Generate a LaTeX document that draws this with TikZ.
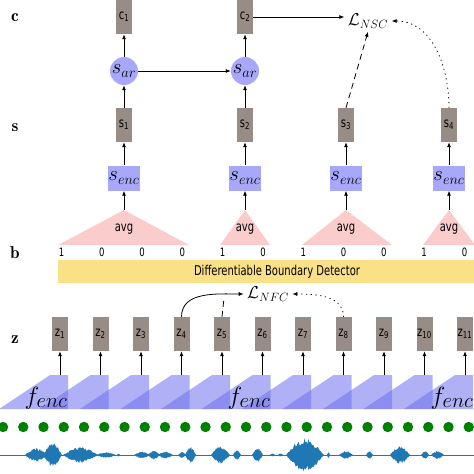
\documentclass[tikz,border=0pt]{standalone}
\usepackage{amsmath,amssymb,amsfonts}
\usepackage{fontspec}
\setsansfont{DejaVu Sans}[FakeStretch=0.74]
\usetikzlibrary{arrows.meta}

\definecolor{boxgray}{RGB}{152,140,135}
\definecolor{encblue}{RGB}{168,168,250}
\definecolor{rampblue}{RGB}{112,114,238}
\definecolor{avgpink}{RGB}{250,204,204}
\definecolor{bdyellow}{RGB}{250,224,135}
\definecolor{dotgreen}{RGB}{0,128,0}
\definecolor{wavblue}{RGB}{31,119,180}

\begin{document}
\begin{tikzpicture}[x=1pt,y=-1pt,>={Latex[length=5pt,width=4pt]},
  every node/.style={font=\sffamily},
  gbox/.style={fill=boxgray, minimum width=16pt, minimum height=34pt, inner sep=0pt,
    font=\sffamily\fontsize{13.5}{13.5}\selectfont},
  encbox/.style={fill=encblue, minimum width=29pt, minimum height=25pt, inner sep=0pt, font=\huge},
  arnode/.style={circle, fill=encblue, minimum size=28pt, inner sep=0pt, font=\huge},
  ramp/.style={fill=rampblue, fill opacity=0.56},
  loosedot/.style={dash pattern=on 0.8pt off 4pt, line cap=round},
  longdash/.style={dash pattern=on 6pt off 4pt},
  wave/.style={fill=wavblue}]

    \useasboundingbox (0,0) rectangle (474,474);

    % Row labels
    \foreach \Name/\Y in {c/18, s/128, b/253, z/340}
    \node[font=\LARGE] (lab\Name) at (15,\Y) {$\mathbf{\Name}$};

    % Draw the encoder ramps, the frames and their arrows
    \foreach \i [evaluate=\i as \cx using 60+40.5*(\i-1)] in {1,...,11} {
      \fill[ramp] ({\cx-61},409) -- ({\cx-10},375) -- ({\cx+8},375) -- ({\cx+8},409) -- cycle;
      \node[gbox] (z\i) at (\cx,334) {z\textsubscript{\i}};
      \coordinate (f\i) at (\cx,375);
      \draw[->,thick] (f\i) -- (z\i);
    }
    \foreach \i/\X in {1/46, 2/249, 3/452}
    \node[font=\Huge] (fe\i) at (\X,398) {$f_{enc}$};

    % Boundary detector and its output bits
    \node[fill=bdyellow, minimum width=438pt, minimum height=23pt, inner sep=0pt,
      font=\sffamily\fontsize{13.5}{13.5}\selectfont] (bd) at (277,271.5) {Differentiable Boundary Detector};
    \foreach \i/\Bit in {1/1,2/0,3/0,4/0,5/1,6/0,7/1,8/0,9/0,10/1,11/0}
    \node[font=\sffamily\fontsize{11.5}{11.5}\selectfont] (b\i) at ({61.5+40.3*(\i-1)},252) {\Bit};

    % Averaging over each segment, then the segment encoder
    \foreach \i/\cx/\l/\r in {1/124/58/189, 2/245/220/270, 3/346/302/392, 4/449/423/475} {
      \fill[avgpink] (\l,245) -- (\cx,210) -- (\r,245) -- cycle;
      \coordinate (t\i) at (\cx,210);
      \node[font=\sffamily\fontsize{13.5}{13.5}\selectfont] (avg\i) at (\cx,229) {avg};
      \node[gbox] (s\i) at (\cx,125) {s\textsubscript{\i}};
      \node[encbox] (se\i) at (\cx,178) {$s_{enc}$};
      \draw[->,thick] (t\i) -- (se\i);
      \draw[->,thick] (se\i) -- (s\i);
    }

    % Autoregressive context
    \foreach \i/\cx in {1/124, 2/245} {
      \node[arnode] (ar\i) at (\cx,71) {$s_{ar}$};
      \node[gbox] (c\i) at (\cx,17) {c\textsubscript{\i}};
      \draw[->,thick] (s\i) -- (ar\i);
      \draw[->,thick] (ar\i) -- (c\i);
    }
    \draw[->,thick] (ar1) -- (ar2);

    % Losses
    \node[font=\LARGE] (Lnsc) at (368,21) {$\mathcal{L}_{NSC}$};
    \draw[->,thick] (c2.east) -- (c2.east -| Lnsc.west);
    \draw[->,thick,longdash] (s3.north) -- (Lnsc.south);
    \draw[->,thick,loosedot] (s4.north) to[out=90,in=0] (Lnsc.east);

    \node[font=\LARGE] (Lnfc) at (268,294) {$\mathcal{L}_{NFC}$};
    \draw[->,thick] (z4.north) to[out=90,in=180] (Lnfc.west);
    \coordinate (z5end) at (224,298);
    \draw[thick,longdash] (z5.north) -- (z5end);
    \draw[->,thick,loosedot] (z8.north) to[out=90,in=0] (Lnfc.east);

    % Samples
    \foreach \k in {0,...,23}
    \fill[dotgreen] ({3+20.25*\k},427) circle (5.2);

    % Waveform
    \pgfmathsetseed{7}
    \draw[wavblue, line width=0.8pt] (0,455) -- (474,455);
    \foreach \xa/\xb/\amp in {25/47/7, 43/62/12, 63/98/8, 96/116/3, 117/120/1.5, 134/150/3.5,
        148/160/4.5, 158/173/3.5, 178/186/3, 185/196/8, 211/230/9, 233/241/5, 252/263/7,
        270/275/1.5, 278/283/1.5, 286/324/17, 327/330/3, 339/353/4, 366/373/4, 390/410/9,
        421/429/4, 431/444/4}
    \fill[wave] plot[domain=\xa:\xb, samples=40] (\x,{455-\amp*sin(180*(\x-\xa)/(\xb-\xa))*(0.6+0.4*rnd)})
      -- plot[domain=\xb:\xa, samples=40] (\x,{455+\amp*sin(180*(\x-\xa)/(\xb-\xa))*(0.6+0.4*rnd)}) -- cycle;

\end{tikzpicture}
\end{document}
